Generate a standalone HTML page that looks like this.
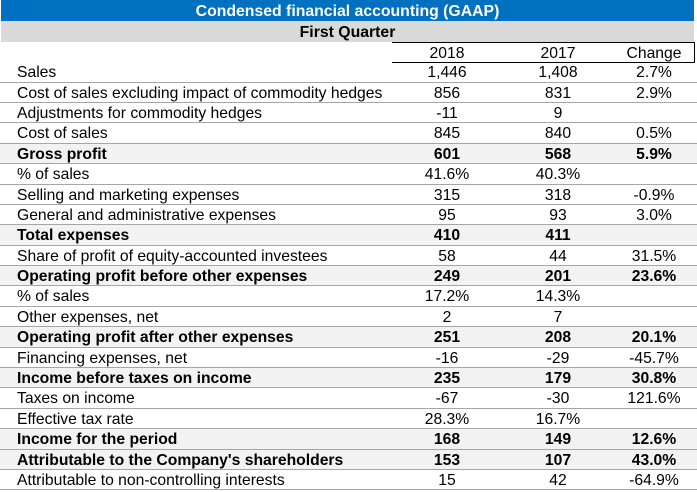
<!DOCTYPE html>
<html>
<head>
<meta charset="utf-8">
<style>
html,body{margin:0;padding:0;background:#fff;}
body{width:697px;height:492px;position:relative;overflow:hidden;font-family:"Liberation Sans",Arial,sans-serif;color:#000;}
.bar{position:absolute;left:1px;width:693px;text-align:center;font-weight:bold;font-size:15.8px;}
.t{top:0;height:21px;background:#0070C0;color:#fff;line-height:23px;}
.q{top:21px;height:20.7px;background:#D9D9D9;line-height:23px;}
.hbox{position:absolute;left:392px;top:42px;width:302px;height:19.3px;border-top:1px solid #000;border-bottom:1px solid #000;border-right:1px solid #000;}
.r{position:absolute;left:0;width:697px;height:20.38px;box-sizing:border-box;border-bottom:1px solid #a6a6a6;font-size:15.7px;}
.r.b{background:#f2f2f2;font-weight:bold;}
.r span,.h span{position:absolute;top:0;line-height:22.6px;white-space:nowrap;}
.l{left:17px;}
.c1{left:387px;width:120px;text-align:center;}
.c2{left:498px;width:120px;text-align:center;}
.c3{left:594px;width:120px;text-align:center;}
.h{position:absolute;left:0;top:42px;width:697px;height:20.3px;font-size:15.7px;}
.h span{line-height:23px;}
</style>
</head>
<body>
<div class="bar t">Condensed financial accounting (GAAP)</div>
<div class="bar q">First Quarter</div>
<div class="hbox"></div>
<div class="h"><span class="c1">2018</span><span class="c2">2017</span><span class="c3">Change</span></div>

<div class="r" style="top:62.3px"><span class="l">Sales</span><span class="c1">1,446</span><span class="c2">1,408</span><span class="c3">2.7%</span></div>
<div class="r" style="top:82.68px"><span class="l">Cost of sales excluding impact of commodity hedges</span><span class="c1">856</span><span class="c2">831</span><span class="c3">2.9%</span></div>
<div class="r" style="top:103.06px"><span class="l">Adjustments for commodity hedges</span><span class="c1">-11</span><span class="c2">9</span></div>
<div class="r" style="top:123.44px"><span class="l">Cost of sales</span><span class="c1">845</span><span class="c2">840</span><span class="c3">0.5%</span></div>
<div class="r b" style="top:143.82px"><span class="l">Gross profit</span><span class="c1">601</span><span class="c2">568</span><span class="c3">5.9%</span></div>
<div class="r" style="top:164.2px"><span class="l">% of sales</span><span class="c1">41.6%</span><span class="c2">40.3%</span></div>
<div class="r" style="top:184.58px"><span class="l">Selling and marketing expenses</span><span class="c1">315</span><span class="c2">318</span><span class="c3">-0.9%</span></div>
<div class="r" style="top:204.96px"><span class="l">General and administrative expenses</span><span class="c1">95</span><span class="c2">93</span><span class="c3">3.0%</span></div>
<div class="r b" style="top:225.34px"><span class="l">Total expenses</span><span class="c1">410</span><span class="c2">411</span></div>
<div class="r" style="top:245.72px"><span class="l">Share of profit of equity-accounted investees</span><span class="c1">58</span><span class="c2">44</span><span class="c3">31.5%</span></div>
<div class="r b" style="top:266.1px"><span class="l">Operating profit before other expenses</span><span class="c1">249</span><span class="c2">201</span><span class="c3">23.6%</span></div>
<div class="r" style="top:286.48px"><span class="l">% of sales</span><span class="c1">17.2%</span><span class="c2">14.3%</span></div>
<div class="r" style="top:306.86px"><span class="l">Other expenses, net</span><span class="c1">2</span><span class="c2">7</span></div>
<div class="r b" style="top:327.24px"><span class="l">Operating profit after other expenses</span><span class="c1">251</span><span class="c2">208</span><span class="c3">20.1%</span></div>
<div class="r" style="top:347.62px"><span class="l">Financing expenses, net</span><span class="c1">-16</span><span class="c2">-29</span><span class="c3">-45.7%</span></div>
<div class="r b" style="top:368px"><span class="l">Income before taxes on income</span><span class="c1">235</span><span class="c2">179</span><span class="c3">30.8%</span></div>
<div class="r" style="top:388.38px"><span class="l">Taxes on income</span><span class="c1">-67</span><span class="c2">-30</span><span class="c3">121.6%</span></div>
<div class="r" style="top:408.76px"><span class="l">Effective tax rate</span><span class="c1">28.3%</span><span class="c2">16.7%</span></div>
<div class="r b" style="top:429.14px"><span class="l">Income for the period</span><span class="c1">168</span><span class="c2">149</span><span class="c3">12.6%</span></div>
<div class="r b" style="top:449.52px"><span class="l">Attributable to the Company's shareholders</span><span class="c1">153</span><span class="c2">107</span><span class="c3">43.0%</span></div>
<div class="r" style="top:469.9px"><span class="l">Attributable to non-controlling interests</span><span class="c1">15</span><span class="c2">42</span><span class="c3">-64.9%</span></div>
</body>
</html>
